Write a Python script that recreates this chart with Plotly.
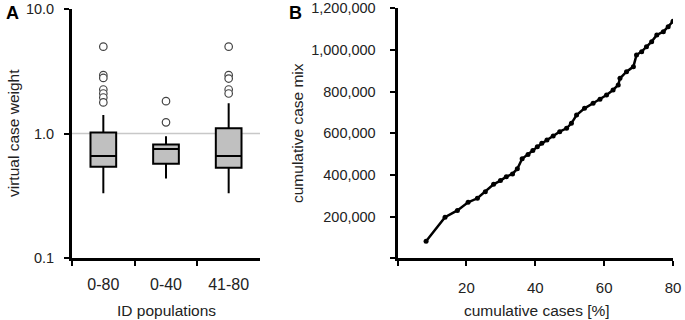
import plotly.graph_objects as go

# ---------------- Data ----------------
# Panel A: box statistics (virtual case weight)
groups = ["0-80", "0-40", "41-80"]
q1 = [0.54, 0.57, 0.53]
median = [0.66, 0.75, 0.66]
q3 = [1.02, 0.815, 1.10]
lower_whisker = [0.33, 0.435, 0.33]
upper_whisker = [1.41, 0.95, 1.75]

outlier_group = ["0-80"] * 7 + ["0-40"] * 2 + ["41-80"] * 5
outlier_value = [5.0, 2.95, 2.8, 2.26, 2.1, 1.95, 1.78,
                 1.82, 1.23,
                 5.0, 2.95, 2.77, 2.26, 2.1]

ya_ticks = [0.1, 1.0, 10.0]
ya_labels = ["0.1", "1.0", "10.0"]

# Panel B: cumulative case mix vs cumulative cases [%]
cum_cases = [8.3, 13.8, 17.4, 20.5, 23.2, 25.5, 27.9, 29.9, 31.6, 33.4,
             34.8, 36.2, 37.9, 39.3, 40.6, 41.9, 43.4, 45.2, 47.1, 49.1,
             50.5, 52.0, 54.3, 56.8, 58.8, 60.7, 62.6, 64.1, 64.6, 66.5,
             68.5, 69.4, 70.9, 72.3, 73.8, 75.3, 77.2, 78.6, 80.0]
cum_mix = [82000, 197000, 230000, 269000, 288000, 320000, 355000, 373000, 392000, 405000,
           430000, 478000, 498000, 517000, 535000, 552000, 568000, 587000, 608000, 624000,
           648000, 688000, 720000, 744000, 763000, 784000, 808000, 832000, 864000, 896000,
           920000, 976000, 992000, 1016000, 1040000, 1072000, 1088000, 1112000, 1138000]

xb_ticks = [0, 20, 40, 60, 80]
xb_labels = ["", "20", "40", "60", "80"]
yb_ticks = [0, 200000, 400000, 600000, 800000, 1000000, 1200000]
yb_labels = ["", "200,000", "400,000", "600,000", "800,000", "1,000,000", "1,200,000"]

# ---------------- Figure ----------------
W, H = 685, 320
FONT = "Arial, Liberation Sans, sans-serif"
TXT = "#222222"

fig = go.Figure()

fig.add_trace(go.Box(
    x=groups, q1=q1, median=median, q3=q3,
    lowerfence=lower_whisker, upperfence=upper_whisker,
    boxpoints=False, whiskerwidth=0, width=0.41,
    fillcolor="#c0c0c0", line=dict(color="black", width=2),
    xaxis="x", yaxis="y", showlegend=False, hoverinfo="skip",
))
fig.add_trace(go.Scatter(
    x=outlier_group, y=outlier_value, mode="markers",
    marker=dict(symbol="circle", size=7.5, color="white",
                line=dict(color="#444444", width=1.2)),
    xaxis="x", yaxis="y", showlegend=False,
))
fig.add_trace(go.Scatter(
    x=cum_cases, y=cum_mix, mode="lines+markers",
    line=dict(color="black", width=2.5),
    marker=dict(size=5, color="black"),
    xaxis="x2", yaxis="y2", showlegend=False,
))


def axis_common(size):
    return dict(
        showline=True, linecolor="black", linewidth=2.8, mirror=False,
        showgrid=False, zeroline=False, ticks="outside", ticklen=5,
        tickwidth=2, tickcolor="black", automargin=False,
        tickfont=dict(family=FONT, size=size, color=TXT),
    )


xa0, xa1 = 72 / W, 260 / W
ya0, ya1 = (H - 257.7) / H, (H - 9.3) / H
xb0, xb1 = 397.5 / W, 673 / W
yb0, yb1 = (H - 258.3) / H, (H - 8.3) / H

fig.update_layout(
    width=W, height=H,
    margin=dict(l=0, r=0, t=0, b=0, pad=0, autoexpand=False),
    paper_bgcolor="white", plot_bgcolor="white",
    font=dict(family=FONT, size=14, color=TXT),
    xaxis=dict(domain=[xa0, xa1], anchor="y", type="category",
               categoryorder="array", categoryarray=groups,
               range=[-0.5, 2.5], tickson="boundaries",
               ticklabelstandoff=10, **axis_common(16)),
    yaxis=dict(domain=[ya0, ya1], anchor="x", type="log", range=[-1, 1],
               tickvals=ya_ticks, ticktext=ya_labels,
               ticklabelstandoff=7, **axis_common(14.5)),
    xaxis2=dict(domain=[xb0, xb1], anchor="y2", range=[0, 80],
                tickvals=xb_ticks, ticktext=xb_labels,
                ticklabelstandoff=9, **axis_common(15)),
    yaxis2=dict(domain=[yb0, yb1], anchor="x2", range=[0, 1200000],
                tickvals=yb_ticks, ticktext=yb_labels,
                ticklabelstandoff=11, **axis_common(14.5)),
    shapes=[dict(type="line", xref="x domain", yref="y", x0=0, x1=1, y0=1, y1=1,
                 line=dict(color="#c8c8c8", width=1.5), layer="below")],
    annotations=[
        dict(text="<b>A</b>", x=4 / W, y=(H - 13) / H, xref="paper", yref="paper",
             xanchor="left", yanchor="middle", showarrow=False,
             font=dict(family=FONT, size=18, color="black")),
        dict(text="<b>B</b>", x=287 / W, y=(H - 13) / H, xref="paper", yref="paper",
             xanchor="left", yanchor="middle", showarrow=False,
             font=dict(family=FONT, size=18, color="black")),
        dict(text="virtual case weight", x=13 / W, y=(H - 133) / H,
             xref="paper", yref="paper", xanchor="center", yanchor="middle",
             textangle=-90, showarrow=False, font=dict(family=FONT, size=15.5, color=TXT)),
        dict(text="ID populations", x=166 / W, y=(H - 310) / H,
             xref="paper", yref="paper", xanchor="center", yanchor="middle",
             showarrow=False, font=dict(family=FONT, size=15.5, color=TXT)),
        dict(text="cumulative case mix", x=297 / W, y=(H - 133) / H,
             xref="paper", yref="paper", xanchor="center", yanchor="middle",
             textangle=-90, showarrow=False, font=dict(family=FONT, size=15.5, color=TXT)),
        dict(text="cumulative cases [%]", x=537 / W, y=(H - 310) / H,
             xref="paper", yref="paper", xanchor="center", yanchor="middle",
             showarrow=False, font=dict(family=FONT, size=15.5, color=TXT)),
    ],
)

fig.write_html(
    "out.html",
    config={"displayModeBar": False},
    post_script=(
        "document.documentElement.style.margin='0';"
        "document.documentElement.style.padding='0';"
        "document.documentElement.style.overflow='hidden';"
        "document.body.style.margin='0';document.body.style.padding='0';"
        "document.body.style.overflow='hidden';"
    ),
)
